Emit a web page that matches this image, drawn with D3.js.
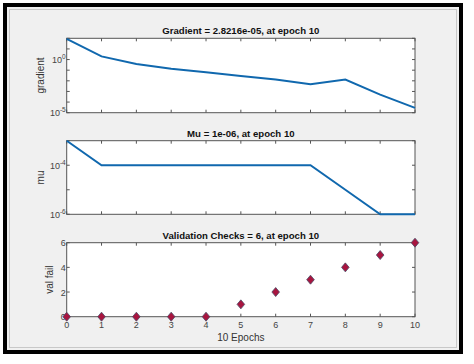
<!DOCTYPE html>
<html><head><meta charset="utf-8">
<script src="https://cdn.jsdelivr.net/npm/d3@7"></script>
<style>body{margin:0;background:#fff;}svg{display:block;font-family:"Liberation Sans",Arial,sans-serif;}</style>
</head><body>
<svg id="c" width="474" height="364"></svg>
<script>
const epochs = [0,1,2,3,4,5,6,7,8,9,10];
const gradientValues = [90, 2.0, 0.39, 0.14, 0.064, 0.029, 0.013, 0.0047, 0.013, 0.0005, 2.8216e-5];
const muValues = [1e-3, 1e-4, 1e-4, 1e-4, 1e-4, 1e-4, 1e-4, 1e-4, 1e-5, 1e-6, 1e-6];
const valFailValues = [0,0,0,0,0,1,2,3,4,5,6];
const titles = ["Gradient = 2.8216e-05, at epoch 10", "Mu = 1e-06, at epoch 10", "Validation Checks = 6, at epoch 10"];
const yLabels = ["gradient", "mu", "val fail"];
const gradTicks = [-5,-4,-3,-2,-1,0,1,2];
const gradLabeled = [-5, 0];
const muTicks = [-6,-5,-4,-3];
const muLabeled = [-6, -4];
const valTicks = [0,2,4,6];
const xLabel = "10 Epochs";

const svg = d3.select("#c");
// frame
svg.append("rect").attr("x",7).attr("y",7).attr("width",456).attr("height",347)
  .attr("fill","#999").attr("opacity",0.5);
svg.append("rect").attr("x",5).attr("y",5).attr("width",456).attr("height",347)
  .attr("fill","#f0f0f0").attr("stroke","#000").attr("stroke-width",4);
svg.append("rect").attr("x",9.5).attr("y",9.5).attr("width",447).attr("height",338)
  .attr("fill","none").attr("stroke","#c8c8c8").attr("stroke-width",1);

const X0 = 66.7, X1 = 415;
const x = d3.scaleLinear().domain([0,10]).range([X0,X1]);
const blue = "#1068ae";
const axisCol = "#555";

function panel(top, bottom, yScale, title, ylab, ytickVals, labelFn, ylabX) {
  const g = svg.append("g");
  g.append("rect").attr("x",X0).attr("y",top).attr("width",X1-X0).attr("height",bottom-top)
    .attr("fill","#fff");
  epochs.forEach(e => {
    g.append("line").attr("x1",x(e)).attr("x2",x(e)).attr("y1",bottom).attr("y2",bottom-3)
      .attr("stroke",axisCol).attr("stroke-width",1);
    g.append("line").attr("x1",x(e)).attr("x2",x(e)).attr("y1",top).attr("y2",top+3)
      .attr("stroke",axisCol).attr("stroke-width",1);
  });
  ytickVals.forEach(v => {
    const yy = yScale(v);
    g.append("line").attr("x1",X0).attr("x2",X0+3).attr("y1",yy).attr("y2",yy).attr("stroke",axisCol);
    g.append("line").attr("x1",X1).attr("x2",X1-3).attr("y1",yy).attr("y2",yy).attr("stroke",axisCol);
    labelFn(g, v, yy);
  });
  g.append("rect").attr("x",X0).attr("y",top).attr("width",X1-X0).attr("height",bottom-top)
    .attr("fill","none").attr("stroke",axisCol).attr("stroke-width",1);
  g.append("text").attr("x",(X0+X1)/2).attr("y",top-4).attr("text-anchor","middle")
    .attr("font-size",9.6).attr("font-weight","bold").attr("fill","#111").text(title);
  g.append("text").attr("transform",`translate(${ylabX},${(top+bottom)/2}) rotate(-90)`)
    .attr("text-anchor","middle").attr("font-size",10).attr("fill","#333").text(ylab);
  return g;
}

function logLabel(labeled) {
  return (g, v, yy) => {
    if (!labeled.includes(v)) return;
    const t = g.append("text").attr("x",X0-1).attr("y",yy+3.5).attr("text-anchor","end")
      .attr("font-size",9).attr("fill","#444");
    t.append("tspan").text("10");
    t.append("tspan").attr("dy",-4).attr("font-size",6.5).text(String(v));
  };
}

// Panel 1: gradient (log)
const y1 = d3.scaleLinear().domain([-5,2]).range([112.7,38.3]);
const g1 = panel(38.3, 112.7, y1, titles[0], yLabels[0], gradTicks, logLabel(gradLabeled), 44);
const yG = d3.scaleLog().domain([1e-5,1e2]).range([112.7,38.3]);
g1.append("path").datum(epochs.map((e,i)=>[e,gradientValues[i]]))
  .attr("d", d3.line().x(d=>x(d[0])).y(d=>yG(d[1])))
  .attr("fill","none").attr("stroke",blue).attr("stroke-width",2);

// Panel 2: mu (log)
const y2 = d3.scaleLinear().domain([-6,-3]).range([214.3,140.7]);
const g2 = panel(140.7, 214.3, y2, titles[1], yLabels[1], muTicks, logLabel(muLabeled), 44);
const yM = d3.scaleLog().domain([1e-6,1e-3]).range([214.3,140.7]);
g2.append("path").datum(epochs.map((e,i)=>[e,muValues[i]]))
  .attr("d", d3.line().x(d=>x(d[0])).y(d=>yM(d[1])))
  .attr("fill","none").attr("stroke",blue).attr("stroke-width",2);

// Panel 3: val fail
const y3 = d3.scaleLinear().domain([0,6]).range([316.7,242.7]);
const g3 = panel(242.7, 316.7, y3, titles[2], yLabels[2], valTicks, (g,v,yy)=>{
  g.append("text").attr("x",X0-1).attr("y",yy+3.5).attr("text-anchor","end")
    .attr("font-size",9).attr("fill","#444").text(v);
}, 53);
epochs.forEach(e => {
  g3.append("text").attr("x",x(e)).attr("y",327.5).attr("text-anchor","middle")
    .attr("font-size",9).attr("fill","#444").text(e);
});
g3.append("text").attr("x",(X0+X1)/2).attr("y",340.5).attr("text-anchor","middle")
  .attr("font-size",10).attr("fill","#333").text(xLabel);
g3.selectAll("path.m").data(epochs.map((e,i)=>[e,valFailValues[i]])).enter().append("path")
  .attr("class","m")
  .attr("d", d => { const cx=x(d[0]), cy=y3(d[1]); return `M${cx},${cy-4.5}L${cx+3.8},${cy}L${cx},${cy+4.5}L${cx-3.8},${cy}Z`; })
  .attr("fill","#a8153f").attr("stroke","#4a4a66").attr("stroke-width",0.8);
</script>
</body></html>
